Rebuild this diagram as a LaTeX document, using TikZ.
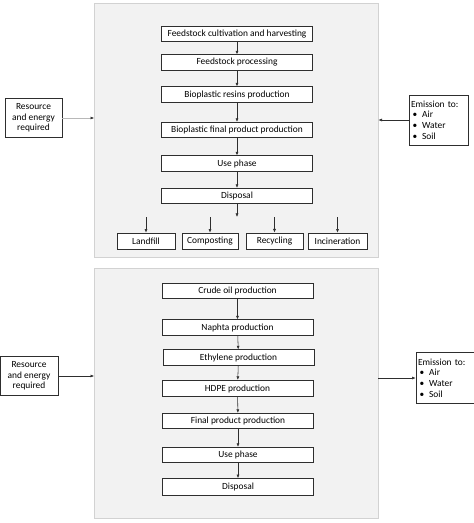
\documentclass[tikz,border=0pt]{standalone}
\usepackage{fontspec}
\setmainfont{Carlito}
\usetikzlibrary{arrows.meta}
\definecolor{cPanel}{HTML}{F2F2F2}
\definecolor{cEdge}{HTML}{D2D2D2}
\definecolor{cLine}{HTML}{2E2E2E}
\tikzset{
	panel/.style={draw=cEdge, fill=cPanel, line width=0.8pt},
	procbox/.style={draw=cLine, fill=white, line width=0.7pt, minimum width=151pt, minimum height=15.5pt, inner sep=1pt, font=\fontsize{9.4}{10.5}\selectfont},
	endbox/.style={procbox, minimum height=16pt},
	sidebox/.style={draw=cLine, fill=white, line width=0.7pt, inner sep=1pt, font=\fontsize{9.4}{10.6}\selectfont},
	flow/.style={-{Latex[length=3.6pt,width=3pt]}, cLine, line width=0.55pt},
	softflow/.style={-{Latex[length=3.6pt,width=3pt,color=cLine]}, draw=black!28, line width=0.55pt}
}
\begin{document}
\begin{tikzpicture}[x=1pt, y=-1pt]
		\useasboundingbox (0,0) rectangle (474,523);
		% bioplastic life cycle
		\node [panel, minimum width=283.5pt, minimum height=253.5pt] (bioPanel) at (236.25,130.25) {};
		\node [procbox] (bCult) at (237,34) {Feedstock cultivation and harvesting};
		\node [procbox] (bProc) at (237,62.5) {Feedstock processing};
		\node [procbox] (bResin) at (237,94.5) {Bioplastic resins production};
		\node [procbox] (bFinal) at (237,130) {Bioplastic final product production};
		\node [procbox] (bUse) at (237,163.5) {Use phase};
		\node [procbox] (bDisp) at (237,196) {Disposal};
		\coordinate (bSplit) at (237,217);
		\node [endbox, minimum width=58pt] (bLand) at (146,241) {Landfill};
		\node [endbox, minimum width=56pt] (bComp) at (210,241) {Composting};
		\node [endbox, minimum width=57pt, line width=0.9pt] (bRecy) at (274.5,241) {Recycling};
		\node [endbox, minimum width=59pt] (bInci) at (337.5,241) {Incineration};
		\draw [flow] (bCult) -- (bProc);
		\draw [flow] (bProc) -- (bResin);
		\draw [flow] (bResin) -- (bFinal);
		\draw [flow] (bFinal) -- (bUse);
		\draw [flow] (bUse) -- (bDisp);
		\draw [flow] (bDisp) -- (bSplit);
		\draw [flow] (bLand.north |- bSplit) -- (bLand.north);
		\draw [flow] (bComp.north |- bSplit) -- (bComp.north);
		\draw [flow] (bRecy.north |- bSplit) -- (bRecy.north);
		\draw [flow] (bInci.north |- bSplit) -- (bInci.north);
		\node [sidebox, minimum width=57pt, minimum height=39pt, align=center] (bRes) at (33.5,118) {Resource\\and energy\\required};
		\node [sidebox, minimum width=59pt, minimum height=50pt, align=left, text width=55pt] (bEmi) at (438.5,120) {Emission to:\\\hspace*{1.5pt}\textbullet\hspace{5pt}Air\\\hspace*{1.5pt}\textbullet\hspace{5pt}Water\\\hspace*{1.5pt}\textbullet\hspace{5pt}Soil};
		\draw [softflow] (bRes.east) -- (bRes.east -| bioPanel.west);
		\draw [flow] (bEmi.west) -- (bEmi.west -| bioPanel.east);
		% fossil HDPE life cycle
		\node [panel, minimum width=283.5pt, minimum height=250pt] (fosPanel) at (236.25,393) {};
		\node [procbox, line width=0.9pt] (fCrude) at (237.5,291) {Crude oil production};
		\node [procbox] (fNaph) at (237.5,327.5) {Naphta production};
		\node [procbox] (fEthy) at (238.5,357.5) {Ethylene production};
		\node [procbox, minimum height=16.5pt] (fHdpe) at (237.5,388.5) {HDPE production};
		\node [procbox] (fFinal) at (238,421) {Final product production};
		\node [procbox] (fUse) at (238,455) {Use phase};
		\node [procbox, minimum height=17pt] (fDisp) at (238,487) {Disposal};
		\draw [flow] (fCrude) -- (fNaph);
		\draw [flow] (fNaph) -- (fEthy);
		\draw [flow] (fEthy) -- (fHdpe);
		\draw [flow] (fHdpe) -- (fFinal);
		\draw [flow] (fFinal) -- (fUse);
		\draw [flow] (fUse) -- (fDisp);
		\node [sidebox, minimum width=58pt, minimum height=39pt, align=center] (fRes) at (29,376) {Resource\\and energy\\required};
		\node [sidebox, minimum width=60pt, minimum height=51pt, align=left, text width=56pt] (fEmi) at (446,378) {Emission to:\\\hspace*{1.5pt}\textbullet\hspace{5pt}Air\\\hspace*{1.5pt}\textbullet\hspace{5pt}Water\\\hspace*{1.5pt}\textbullet\hspace{5pt}Soil};
		\draw [flow] (fRes.east) -- (fRes.east -| fosPanel.west);
		\draw [flow] (fEmi.west -| fosPanel.east) -- (fEmi.west);
\end{tikzpicture}
\end{document}
